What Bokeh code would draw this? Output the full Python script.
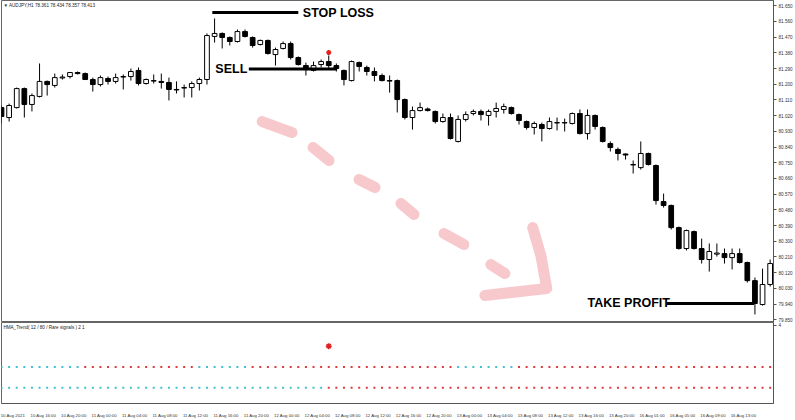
from bokeh.plotting import figure
from bokeh.layouts import column
from bokeh.models import Range1d, FixedTicker, ColumnDataSource, NumeralTickFormatter
from bokeh.core.properties import value
from bokeh.embed import file_html
from bokeh.resources import INLINE

# ---------------- data ----------------
opens = [81.066, 81.009, 81.066, 81.175, 81.084, 81.130, 81.216, 81.193, 81.236, 81.244,
         81.267, 81.261, 81.227, 81.198, 81.233, 81.216, 81.241, 81.244, 81.279, 81.204,
         81.218, 81.216, 81.210, 81.170, 81.178, 81.181, 81.204, 81.227, 81.474, 81.491,
         81.468, 81.445, 81.502, 81.468, 81.428, 81.451, 81.370, 81.405, 81.433, 81.353,
         81.307, 81.279, 81.313, 81.330, 81.307, 81.279, 81.221, 81.324, 81.296, 81.273,
         81.250, 81.221, 81.221, 81.112, 81.009, 81.049, 81.058, 81.044, 80.986, 81.009,
         80.872, 80.998, 81.032, 81.044, 81.021, 81.044, 81.055, 81.066, 81.026, 80.986,
         80.952, 80.969, 80.946, 80.978, 80.978, 80.975, 81.032, 80.917, 81.021, 80.952,
         80.860, 80.826, 80.800, 80.737, 80.722, 80.803, 80.734, 80.527, 80.505, 80.378,
         80.258, 80.355, 80.258, 80.195, 80.226, 80.229, 80.206, 80.229, 80.178, 80.074,
         79.937, 80.052]
highs = [81.078, 81.089, 81.181, 81.181, 81.147, 81.319, 81.221, 81.261, 81.256, 81.270,
         81.273, 81.267, 81.238, 81.250, 81.244, 81.261, 81.256, 81.290, 81.296, 81.233,
         81.256, 81.261, 81.238, 81.216, 81.198, 81.216, 81.238, 81.491, 81.577, 81.497,
         81.474, 81.514, 81.514, 81.474, 81.456, 81.456, 81.410, 81.445, 81.445, 81.359,
         81.324, 81.330, 81.342, 81.365, 81.319, 81.284, 81.336, 81.330, 81.307, 81.296,
         81.261, 81.250, 81.227, 81.118, 81.072, 81.095, 81.066, 81.049, 81.032, 81.032,
         81.021, 81.044, 81.055, 81.055, 81.055, 81.095, 81.089, 81.072, 81.032, 80.992,
         80.986, 80.980, 81.009, 81.009, 81.003, 81.038, 81.055, 81.055, 81.026, 80.958,
         80.872, 80.837, 80.803, 80.763, 80.872, 80.808, 80.740, 80.573, 80.510, 80.384,
         80.367, 80.361, 80.315, 80.287, 80.287, 80.258, 80.258, 80.258, 80.183, 80.092,
         80.143, 80.195]
lows = [80.975, 80.986, 81.061, 81.009, 81.044, 81.124, 81.135, 81.181, 81.227, 81.233,
        81.256, 81.224, 81.158, 81.187, 81.198, 81.204, 81.170, 81.221, 81.193, 81.198,
        81.204, 81.175, 81.107, 81.147, 81.124, 81.124, 81.164, 81.198, 81.439, 81.405,
        81.422, 81.439, 81.468, 81.410, 81.422, 81.370, 81.307, 81.399, 81.342, 81.307,
        81.250, 81.273, 81.296, 81.290, 81.273, 81.193, 81.216, 81.273, 81.250, 81.216,
        81.216, 81.152, 81.038, 80.998, 80.940, 81.044, 81.044, 80.975, 80.980, 80.883,
        80.866, 80.986, 81.021, 80.992, 80.963, 81.009, 81.032, 81.026, 80.969, 80.940,
        80.912, 80.872, 80.940, 80.935, 80.929, 80.969, 80.912, 80.883, 80.940, 80.866,
        80.814, 80.763, 80.768, 80.688, 80.711, 80.734, 80.510, 80.493, 80.367, 80.252,
        80.247, 80.252, 80.172, 80.126, 80.212, 80.172, 80.138, 80.172, 80.063, 79.880,
        79.931, 80.040]
closes = [81.015, 81.078, 81.175, 81.084, 81.135, 81.216, 81.198, 81.238, 81.241, 81.267,
          81.261, 81.227, 81.198, 81.238, 81.216, 81.238, 81.244, 81.273, 81.204, 81.227,
          81.221, 81.210, 81.170, 81.167, 81.181, 81.204, 81.227, 81.479, 81.491, 81.468,
          81.445, 81.502, 81.474, 81.422, 81.451, 81.376, 81.399, 81.433, 81.353, 81.313,
          81.284, 81.307, 81.330, 81.307, 81.290, 81.227, 81.330, 81.302, 81.273, 81.250,
          81.221, 81.218, 81.112, 81.009, 81.049, 81.066, 81.049, 80.986, 81.009, 80.889,
          80.998, 81.026, 81.044, 81.026, 81.044, 81.061, 81.072, 81.032, 80.992, 80.952,
          80.975, 80.946, 80.986, 80.980, 80.980, 81.032, 80.917, 81.021, 80.958, 80.872,
          80.837, 80.803, 80.794, 80.740, 80.803, 80.740, 80.533, 80.505, 80.378, 80.258,
          80.361, 80.258, 80.195, 80.241, 80.232, 80.206, 80.229, 80.178, 80.074, 79.943,
          80.052, 80.172]

time_labels = ["10 Aug 2021", "10 Aug 16:00", "10 Aug 20:00", "11 Aug 00:00", "11 Aug 04:00",
               "11 Aug 08:00", "11 Aug 12:00", "11 Aug 16:00", "11 Aug 20:00", "12 Aug 00:00",
               "12 Aug 04:00", "12 Aug 08:00", "12 Aug 12:00", "12 Aug 16:00", "12 Aug 20:00",
               "13 Aug 00:00", "13 Aug 04:00", "13 Aug 08:00", "13 Aug 12:00", "13 Aug 16:00",
               "13 Aug 20:00", "16 Aug 01:00", "16 Aug 05:00", "16 Aug 09:00", "16 Aug 13:00",
               "16 Aug 17:00"]
label_every = 4

price_ticks = [81.650, 81.560, 81.470, 81.380, 81.290, 81.200, 81.110, 81.020, 80.930,
               80.840, 80.750, 80.660, 80.570, 80.480, 80.390, 80.300, 80.210, 80.120,
               80.030, 79.940, 79.850]

# indicator states per bar: 1 = up (cyan), 0 = down (red)
trend_fast = [1]*11 + [0]*15 + [1]*7 + [0]*27 + [1]*8 + [0]*34
trend_slow = [1]*43 + [0]*59
signal_bar = 43
signal_price = 81.382
indicator_ticks = [4]

# annotation levels
stop_loss_price = 81.611
stop_loss_bars = [27.7, 39.0]
sell_price = 81.287
sell_bars = [32.5, 44.1]
take_profit_price = 79.943
take_profit_bars = [87.4, 98.9]

# pink hand-drawn arrow (bar index, price)
arrow_x = [[34.25, 38.19], [40.94, 43.04], [46.98, 49.08], [52.49, 54.20],
           [58.14, 60.76], [64.30, 66.14], [69.80, 70.87, 71.65, 63.52]]
arrow_y = [[80.986, 80.923], [80.837, 80.763], [80.654, 80.608], [80.516, 80.453],
           [80.344, 80.281], [80.166, 80.115], [80.378, 80.218, 80.029, 79.989]]

# ---------------- build ----------------
N = len(opens)
idx = list(range(N))
up = [c >= o for o, c in zip(opens, closes)]
src = ColumnDataSource(dict(
    x=idx, h=highs, l=lows,
    top=[max(o, c) for o, c in zip(opens, closes)],
    bottom=[min(o, c) for o, c in zip(opens, closes)],
    fill=["white" if u else "black" for u in up],
))

FONT = value("Liberation Sans")
x_rng = Range1d(0, 101.44)

p = figure(width=795, height=322, x_range=x_rng, y_range=Range1d(79.834, 81.680),
           x_axis_location=None, y_axis_location="right",
           toolbar_location=None, output_backend="svg",
           min_border_left=1, min_border_right=21, min_border_top=0, min_border_bottom=0)
p.xgrid.visible = False
p.ygrid.visible = False
p.outline_line_color = "#666666"
p.background_fill_color = "white"
p.border_fill_color = "white"

ax = p.yaxis[0]
ax.ticker = FixedTicker(ticks=price_ticks)
ax.formatter = NumeralTickFormatter(format="0.000")
ax.major_label_text_font = "Liberation Sans"
ax.major_label_text_font_size = "4.6px"
ax.major_label_text_color = "#333333"
ax.axis_line_color = "#555555"
ax.major_tick_line_color = "#555555"
ax.major_tick_out = 3
ax.major_tick_in = 0
ax.minor_tick_line_color = None
ax.major_label_standoff = 2

# pink arrow behind candles
p.multi_line(xs=arrow_x, ys=arrow_y, line_color="#f7c3c7", line_width=11,
             line_cap="round", line_join="round", line_alpha=0.9)

p.segment(x0="x", y0="h", x1="x", y1="l", source=src, line_color="black", line_width=1)
p.vbar(x="x", width=0.62, top="top", bottom="bottom", fill_color="fill",
       line_color="black", line_width=1, source=src)

# annotation lines
p.segment(x0=[stop_loss_bars[0], sell_bars[0], take_profit_bars[0]],
          y0=[stop_loss_price, sell_price, take_profit_price],
          x1=[stop_loss_bars[1], sell_bars[1], take_profit_bars[1]],
          y1=[stop_loss_price, sell_price, take_profit_price],
          line_color="black", line_width=3)
p.text(x=[stop_loss_bars[1] + 0.6, sell_bars[0] - 4.4, take_profit_bars[0] - 10.4],
       y=[stop_loss_price, sell_price, take_profit_price],
       text=["STOP LOSS", "SELL", "TAKE PROFIT"],
       text_font=FONT, text_font_style="bold", text_font_size="12.5px",
       text_baseline="middle", text_align="left", text_color="black")

# sell signal mark above candle
p.scatter(x=[signal_bar], y=[signal_price], marker="asterisk", size=5,
          line_color="#e02020", line_width=1.5)

# title
p.text(x=[0.25], y=[81.651], text=["\u25bc AUDJPY,H1  78.361 78.434 78.357 78.413"],
       text_font=FONT, text_font_size="4.6px", text_baseline="middle", text_color="#222222")

# ---------------- indicator panel ----------------
q = figure(width=795, height=98, x_range=x_rng, y_range=Range1d(0.238, 4.143),
           y_axis_location="right", toolbar_location=None, output_backend="svg",
           min_border_left=1, min_border_right=21, min_border_top=0, min_border_bottom=15)
q.xgrid.visible = False
q.ygrid.visible = False
q.outline_line_color = "#666666"

qa = q.yaxis[0]
qa.ticker = FixedTicker(ticks=indicator_ticks)
qa.major_label_text_font = "Liberation Sans"
qa.major_label_text_font_size = "4.6px"
qa.major_label_text_color = "#333333"
qa.axis_line_color = "#555555"
qa.major_tick_line_color = "#555555"
qa.major_tick_out = 3
qa.major_tick_in = 0
qa.minor_tick_line_color = None
qa.major_label_standoff = 2

xa = q.xaxis[0]
label_pos = [i * label_every + 1.5 for i in range(len(time_labels))]
xa.ticker = FixedTicker(ticks=label_pos)
xa.major_label_overrides = {pos: lab for pos, lab in zip(label_pos, time_labels)}
xa.major_label_text_font = "Liberation Sans"
xa.major_label_text_font_size = "4.3px"
xa.major_label_text_color = "#333333"
xa.axis_line_color = "#555555"
xa.major_tick_line_color = None
xa.minor_tick_line_color = None
xa.major_label_standoff = 3

CYAN, RED = "#3fc1cf", "#e03a3a"
q.scatter(x=idx, y=[2] * N, marker="square", size=2, line_color=None,
          fill_color=[CYAN if s else RED for s in trend_fast])
q.scatter(x=idx, y=[1] * N, marker="square", size=2, line_color=None,
          fill_color=[CYAN if s else RED for s in trend_slow])
q.scatter(x=[signal_bar], y=[3], marker="asterisk", size=6, line_color="#e02020", line_width=1.5)
q.text(x=[0.25], y=[3.88], text=["HMA_Trend( 12 / 80 / Rare signals ) 2 1"],
       text_font=FONT, text_font_size="4.6px", text_baseline="middle", text_color="#222222")
# bottom value label of the indicator scale, placed at the right edge like the terminal does
q.text(x=[101.44 + 0.45], y=[0.238], text=["0"], text_font=FONT, text_font_size="4.6px",
       text_baseline="top", text_align="left", text_color="#333333")

layout = column(p, q, spacing=0)
open("out.html", "w").write(file_html(layout, INLINE))
